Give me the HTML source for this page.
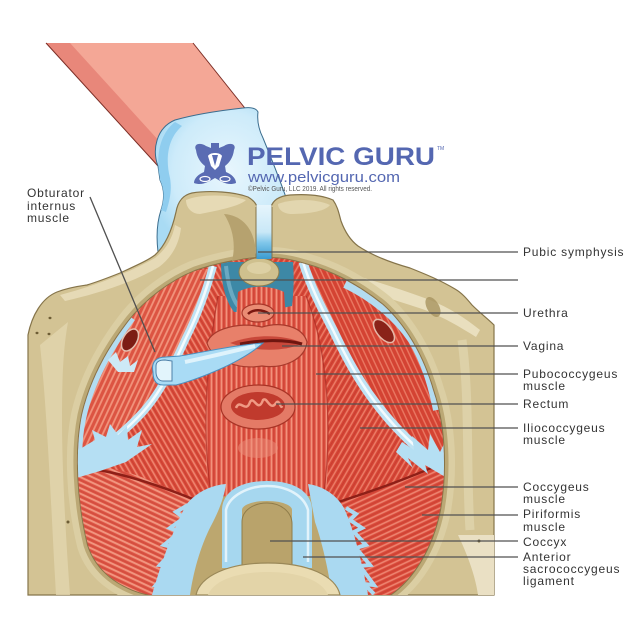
<!DOCTYPE html>
<html><head><meta charset="utf-8">
<style>
html,body{margin:0;padding:0;background:#fff;width:640px;height:640px;overflow:hidden;}
svg{display:block;}
text{font-family:"Liberation Sans",sans-serif;}
</style></head><body>
<svg width="640" height="640" viewBox="0 0 640 640" xmlns="http://www.w3.org/2000/svg">
<defs>
  <pattern id="fV" width="5" height="20" patternUnits="userSpaceOnUse">
    <rect width="5" height="20" fill="#da4c3c"/><rect x="0.6" width="1.8" height="20" fill="#f2927c"/><rect x="3.6" width="0.5" height="20" fill="#ad2e25" opacity=".5"/>
  </pattern>
  <pattern id="fLL" width="5" height="20" patternUnits="userSpaceOnUse" patternTransform="rotate(-30)">
    <rect width="5" height="20" fill="#d84838"/><rect x="0.6" width="1.6" height="20" fill="#ef8670"/><rect x="3.6" width="0.5" height="20" fill="#a82a22" opacity=".5"/>
  </pattern>
  <pattern id="fRR" width="5" height="20" patternUnits="userSpaceOnUse" patternTransform="rotate(30)">
    <rect width="5" height="20" fill="#d64535"/><rect x="0.6" width="1.5" height="20" fill="#ec7c66"/><rect x="3.6" width="0.5" height="20" fill="#a82a22" opacity=".5"/>
  </pattern>
  <pattern id="fOL" width="5" height="20" patternUnits="userSpaceOnUse" patternTransform="rotate(25)">
    <rect width="5" height="20" fill="#dc5442"/><rect x="0.6" width="1.8" height="20" fill="#f2947c"/>
  </pattern>
  <pattern id="fOR" width="5" height="20" patternUnits="userSpaceOnUse" patternTransform="rotate(-25)">
    <rect width="5" height="20" fill="#d44333"/><rect x="0.6" width="1.4" height="20" fill="#ea7862"/>
  </pattern>
  <pattern id="fBL" width="5" height="20" patternUnits="userSpaceOnUse" patternTransform="rotate(-65)">
    <rect width="5" height="20" fill="#dc5444"/><rect x="0.6" width="1.9" height="20" fill="#f29680"/><rect x="3.7" width="0.5" height="20" fill="#a82a22" opacity=".4"/>
  </pattern>
  <pattern id="fBR" width="5" height="20" patternUnits="userSpaceOnUse" patternTransform="rotate(65)">
    <rect width="5" height="20" fill="#d84838"/><rect x="0.6" width="1.6" height="20" fill="#ee8470"/><rect x="3.7" width="0.5" height="20" fill="#a82a22" opacity=".4"/>
  </pattern>
  <linearGradient id="sym" x1="0" y1="0" x2="0" y2="1">
    <stop offset="0" stop-color="#e6f5fc"/><stop offset="0.5" stop-color="#c9e8f7"/><stop offset="0.7" stop-color="#7fc6ea"/><stop offset="1" stop-color="#3a9ad0"/>
  </linearGradient>
  <radialGradient id="capg" cx="0.55" cy="0.45" r="0.6">
    <stop offset="0" stop-color="#e8f6fd"/><stop offset="0.7" stop-color="#cdebfa"/><stop offset="1" stop-color="#a9dbf4"/>
  </radialGradient>
  <clipPath id="op"><path d="M256,258 C240,259 215,264 195,271 C170,281 145,300 128,322 C108,348 90,380 82,415 C75,450 77,500 88,545 C96,570 118,588 150,595 L390,595 C412,580 432,550 440,510 C447,470 445,425 433,390 C423,355 405,325 383,305 C362,288 335,272 305,264 C292,260 282,258 270,258 Z"/></clipPath>
  <clipPath id="pan"><path d="M28,335 C32,315 42,298 57,292 C70,287 80,286 87,285 C100,281 110,277 120,273 C135,266 147,261 155,255 C166,245 172,230 176,212 C178,201 183,195 192,193 C210,190 235,192 248,197 C253,200 256,203 257,207 L271,207 C273,200 280,196 290,195 C305,194 322,195 333,200 C338,207 339,214 341,221 C345,232 350,240 358,246 C370,254 385,261 410,268 C425,274 440,280 455,289 C462,293 467,299 472,305 C480,313 488,319 494,325 L494,595 L28,595 Z"/></clipPath>
</defs>

<rect width="640" height="640" fill="#fff"/>

<!-- thigh -->
<polygon points="46,43 193,43 248,112 158,166" fill="#f4a796"/>
<polygon points="46,43 70,43 170,153 158,166" fill="#e8877a"/>
<path d="M46,43 L158,166 M193,43 L248,112" stroke="#7c2e26" stroke-width="1" fill="none"/>

<!-- blue cap -->
<path d="M158,166 C152,150 156,128 175,120 C200,113 225,110 243,108 C250,107 256,108 258,112 C257,120 258,128 263,138 C270,155 278,175 287,200 L285,252 L158,252 C156,235 157,222 161,210 C165,198 164,188 160,180 Z" fill="url(#capg)" stroke="#3b6d8e" stroke-width="1"/>
<path d="M160,178 C156,160 158,135 175,122 L182,126 C168,138 165,158 170,178 C172,190 170,200 166,212 L161,210 C165,198 164,188 160,180Z" fill="#8fcdef"/>

<!-- bone panel -->
<path d="M28,335 C32,315 42,298 57,292 C70,287 80,286 87,285 C100,281 110,277 120,273 C135,266 147,261 155,255 C166,245 172,230 176,212 C178,201 183,195 192,193 C210,190 235,192 248,197 C253,200 256,203 257,207 L271,207 C273,200 280,196 290,195 C305,194 322,195 333,200 C338,207 339,214 341,221 C345,232 350,240 358,246 C370,254 385,261 410,268 C425,274 440,280 455,289 C462,293 467,299 472,305 C480,313 488,319 494,325 L494,595 L28,595 Z" fill="#d3c394" stroke="#85744a" stroke-width="1.2"/>

<g clip-path="url(#pan)">
  <path d="M40,345 C46,400 50,480 54,560 L56,595 L70,595 C66,540 62,470 62,420 C62,380 63,350 68,322 Z" fill="#e2d6ae" opacity=".8"/>
  <path d="M60,295 C90,287 125,275 155,258 C165,250 172,240 175,225 L181,228 C179,245 171,258 159,267 C130,284 95,294 65,301 Z" fill="#e6dab6"/>
  <path d="M300,262 C340,270 390,285 430,300 C450,308 465,318 480,330 L476,337 C460,327 445,318 425,310 C390,298 340,284 300,270 Z" fill="#e9dfbe"/>
  <ellipse cx="433" cy="307" rx="6" ry="11" transform="rotate(-30 433 307)" fill="#a8945f" opacity=".8"/>
  <path d="M462,340 C470,400 466,470 470,530" stroke="#ddd1a8" stroke-width="9" fill="none"/>
  <path d="M458,535 C470,560 476,580 478,595 L494,595 L494,535 Z" fill="#eae0c4"/>
  <ellipse cx="50" cy="318" rx="1.5" ry="1.2" fill="#6d5d35"/>
  <ellipse cx="37" cy="333" rx="1.5" ry="1.2" fill="#6d5d35"/>
  <ellipse cx="49" cy="334" rx="1.5" ry="1.2" fill="#6d5d35"/>
  <ellipse cx="68" cy="522" rx="1.5" ry="1.5" fill="#6d5d35"/>
  <ellipse cx="479" cy="541" rx="1.5" ry="1.5" fill="#6d5d35"/>
  <path d="M256,258 C240,259 215,264 195,271 C170,281 145,300 128,322 C108,348 90,380 82,415 C75,450 77,500 88,545 C96,570 118,588 150,595 L390,595 C412,580 432,550 440,510 C447,470 445,425 433,390 C423,355 405,325 383,305 C362,288 335,272 305,264 C292,260 282,258 270,258 Z" fill="none" stroke="#dbcea3" stroke-width="22"/>
  <path d="M256,258 C240,259 215,264 195,271 C170,281 145,300 128,322 C108,348 90,380 82,415 C75,450 77,500 88,545 C96,570 118,588 150,595 L390,595 C412,580 432,550 440,510 C447,470 445,425 433,390 C423,355 405,325 383,305 C362,288 335,272 305,264 C292,260 282,258 270,258 Z" fill="none" stroke="#bba875" stroke-width="9"/>
  <path d="M256,258 C240,259 215,264 195,271 C170,281 145,300 128,322 C108,348 90,380 82,415 C75,450 77,500 88,545 C96,570 118,588 150,595 L390,595 C412,580 432,550 440,510 C447,470 445,425 433,390 C423,355 405,325 383,305 C362,288 335,272 305,264 C292,260 282,258 270,258 Z" fill="none" stroke="#877548" stroke-width="2"/>
</g>

<!-- opening content -->
<g clip-path="url(#op)">
  <rect x="60" y="250" width="207" height="345" fill="url(#fLL)"/>
  <rect x="267" y="250" width="200" height="345" fill="url(#fRR)"/>
  <path d="M195,271 C170,281 145,300 128,322 C108,348 90,380 82,415 C77,440 77,455 78,468 L95,458 C120,440 140,420 155,398 C170,375 185,340 195,312 C200,295 207,280 212,268 Z" fill="url(#fOL)"/>
  <path d="M305,264 C335,272 362,288 383,305 C405,325 423,355 433,390 C440,415 444,440 444,468 L430,460 C410,445 392,425 375,402 C358,380 345,355 333,330 C322,308 312,285 303,262 Z" fill="url(#fOR)"/>
  <path d="M78,468 C110,462 150,478 205,505 C215,515 225,540 230,595 L70,595 Z" fill="url(#fBL)"/>
  <path d="M446,464 C410,478 370,492 322,507 C312,520 305,545 300,595 L450,595 Z" fill="url(#fBR)"/>
  <path d="M218,296 C208,350 200,430 210,500 L325,500 C333,430 328,350 306,296 Z" fill="url(#fV)"/>
  <path d="M80,468 C115,470 160,485 210,506" stroke="#8e1f17" stroke-width="2.4" fill="none"/>
  <path d="M445,462 C410,478 370,492 320,508" stroke="#8e1f17" stroke-width="2.4" fill="none"/>
  <path d="M218,296 C208,350 200,430 212,500" stroke="#a8281f" stroke-width="1.2" fill="none" opacity=".7"/>
  <path d="M306,296 C328,350 333,430 323,500" stroke="#a8281f" stroke-width="1.2" fill="none" opacity=".7"/>
  <path d="M132,318 C112,345 95,375 86,405 C80,425 78,445 79,465" stroke="#b3dcf1" stroke-width="7" fill="none"/>
  <path d="M345,284 C370,296 395,315 412,340 C425,362 432,385 437,410" stroke="#b3dcf1" stroke-width="8" fill="none"/>
  <path d="M213,266 C206,292 196,318 186,338 C175,362 164,386 148,406 C132,426 108,444 80,466" stroke="#bfe3f4" stroke-width="8" fill="none"/>
  <path d="M213,266 C206,292 196,318 186,338 C175,362 164,386 148,406 C132,426 108,444 80,466" stroke="#f4fbfe" stroke-width="2.5" fill="none"/>
  <path d="M75,452 L95,440 L92,430 L106,437 L110,424 L118,435 L127,426 L128,440 L142,430 L137,447 L152,444 L126,462 L100,471 L76,478 Z" fill="#b5dff3"/>
  <path d="M108,360 L116,352 L120,362 L128,356 L130,366 L138,360 L134,372 L118,372 Z" fill="#cde9f6"/>
  <path d="M303,262 C310,285 320,305 333,330 C345,355 358,380 375,402 C392,425 415,448 442,468" stroke="#bfe3f4" stroke-width="9" fill="none"/>
  <path d="M303,262 C310,285 320,305 333,330 C345,355 358,380 375,402 C392,425 415,448 442,468" stroke="#f4fbfe" stroke-width="2.5" fill="none"/>
  <path d="M447,478 L425,465 L428,474 L408,458 L413,468 L396,452 L402,442 L414,450 L412,436 L428,450 L430,434 L440,452 L446,440 Z" fill="#b5dff3"/>
  <ellipse cx="130" cy="340" rx="7" ry="12" transform="rotate(30 130 340)" fill="#7c1d14" stroke="#e5c0b0" stroke-width="1.5"/>
  <ellipse cx="384" cy="331" rx="7" ry="14" transform="rotate(-40 384 331)" fill="#8a2218" stroke="#e5b8a8" stroke-width="1.5"/>
  <path d="M221,262 C221,282 225,300 234,312 L248,312 L248,290 L278,290 L282,308 L292,306 C294,290 294,275 293,262 Z" fill="#3d88a6"/>
  <path d="M226,266 C228,285 232,298 238,306" stroke="#6aa9c2" stroke-width="4" fill="none"/>
  <ellipse cx="259" cy="272" rx="20" ry="14" fill="#cfc08e" stroke="#8e7c4b" stroke-width="1"/>
  <ellipse cx="259" cy="268" rx="12" ry="6" fill="#ddd0a4"/>
  <path d="M238,292 C250,285 270,285 284,292 L286,320 L236,320 Z" fill="url(#fV)"/>
  <ellipse cx="258" cy="313" rx="16" ry="9" fill="#ea8c74" stroke="#a8372a" stroke-width="1.2"/>
  <path d="M248,314 C253,309 262,309 270,314" stroke="#7a1810" stroke-width="2.5" fill="none"/>
  <path d="M207,343 C212,328 240,322 262,327 C282,321 303,327 307,342 C305,360 283,369 262,366 C238,370 212,360 207,343 Z" fill="#e8806a" stroke="#a83a2c" stroke-width="1.2"/>
  <path d="M230,343 C250,335 280,333 303,343 C285,352 255,352 230,343 Z" fill="#c8483a"/>
  <path d="M240,344 C260,340 285,339 302,344" stroke="#6e150f" stroke-width="3" fill="none"/>
  <ellipse cx="258" cy="407" rx="37" ry="22" fill="#e47a66" stroke="#a83426" stroke-width="1.2"/>
  <ellipse cx="258" cy="406" rx="27" ry="14" fill="#c03a2d"/>
  <path d="M236,408 C240,398 246,414 250,402 C254,395 258,414 263,400 C267,396 270,412 276,403 C279,398 281,410 282,406" stroke="#f09a84" stroke-width="2.5" fill="none"/>
  <ellipse cx="258" cy="448" rx="20" ry="10" fill="#ec907c" opacity=".5"/>
  <path d="M198,525 C203,508 213,498 226,496 L310,496 C323,498 333,508 338,525 L350,595 L186,595 Z" fill="#bca76f"/>
  <path d="M226,484 C212,485 196,492 186,505 C174,528 162,560 152,595 L190,595 C194,568 202,542 213,522 C219,510 224,498 226,484 Z" fill="#aad9f1"/>
  <path d="M188,505 L176,512 L184,518 L170,528 L180,532 L164,545 L176,548 L160,565 L172,566 L156,585 L168,584 L160,594" stroke="#aad9f1" stroke-width="4" fill="none"/>
  <path d="M308,484 C322,486 336,494 344,508 C354,530 362,562 368,595 L332,595 C328,568 322,542 315,522 Z" fill="#aad9f1"/>
  <path d="M346,508 L356,514 L350,520 L362,528 L354,532 L366,545 L356,548 L370,565 L360,566 L374,585 L364,584 L374,594" stroke="#aad9f1" stroke-width="4" fill="none"/>
  <path d="M232,568 L232,510 C232,497 248,491 267,491 C286,491 302,497 302,510 L302,568" stroke="#a6d7ef" stroke-width="20" fill="none"/>
  <path d="M226,562 L226,510 C229,496 248,486 267,486 C288,486 304,496 308,510 L308,562" stroke="#e2f3fb" stroke-width="2.5" fill="none"/>
  <path d="M242,566 L242,522 C242,510 254,503 267,503 C281,503 292,512 292,524 L292,566 Z" fill="#b9a36b" stroke="#8f7c4a" stroke-width="1"/>
  <path d="M196,595 C200,576 228,563 268,563 C308,563 336,576 340,595 Z" fill="#eadcb2" stroke="#9a8858" stroke-width="1.2"/>
  <path d="M208,595 C214,580 238,572 268,572 C298,572 322,580 328,595 Z" fill="#e3d4a8"/>
</g>

<!-- pubic body details -->
<path d="M186,200 C200,194 228,194 246,200 C240,206 220,210 200,214 C192,214 186,208 186,200 Z" fill="#e6dab5"/>
<path d="M224,214 C240,215 252,226 255,245 L255,256 L232,261 C236,245 233,228 224,214 Z" fill="#b6a26f"/>
<path d="M278,204 C290,199 315,198 330,205 C325,212 305,214 290,214 C282,213 278,209 278,204 Z" fill="#e2d6af"/>
<path d="M256,207 L256,258" stroke="#85744a" stroke-width="1"/>
<path d="M272,207 L272,258" stroke="#85744a" stroke-width="1"/>
<rect x="256.5" y="205" width="15" height="54" fill="url(#sym)"/>

<!-- blue thumb -->
<path d="M153,372 C151,362 156,357 166,357 L180,356 C200,353 228,346 263,343 C252,353 236,362 218,370 C202,377 188,382 176,385 L163,385 C156,385 153,380 153,372 Z" fill="#a9dbf5" stroke="#4a8fbf" stroke-width="1"/>
<path d="M185,362 C205,358 230,352 255,346" stroke="#dff3fc" stroke-width="4" fill="none"/>
<path d="M156,366 C156,361 160,360 165,360 L172,361 L172,381 L163,381 C158,381 156,376 156,372 Z" fill="#e2f4fc" stroke="#4d7fa8" stroke-width="1"/>

<!-- logo -->
<path d="M196,150 C193,144 200,142 206,146 L211,148 L211,143 L219,143 L219,148 L224,146 C230,142 237,144 234,150 C233,158 229,163 225,166 L226,172 C231,174 236,178 236,183 C228,186 222,182 215,178 C208,182 202,186 194,183 C194,178 199,174 204,172 L205,166 C201,163 197,158 196,150 Z" fill="#5a6cb3"/>
<path d="M208,156 C210,152 220,152 222,156 L219,166 L215,170 L211,166 Z" fill="#fff"/>
<path d="M212,155 L218,155 L215,166 Z" fill="#5a6cb3"/>
<ellipse cx="205" cy="179" rx="5" ry="2.5" fill="none" stroke="#fff" stroke-width="1.2"/>
<ellipse cx="225" cy="179" rx="5" ry="2.5" fill="none" stroke="#fff" stroke-width="1.2"/>
<text x="247" y="165" font-size="25" font-weight="bold" fill="#5467b1" textLength="188" lengthAdjust="spacingAndGlyphs">PELVIC GURU</text>
<text x="437" y="150" font-size="5" fill="#5467b1">TM</text>
<text x="248" y="182" font-size="15" fill="#5467b1" textLength="152" lengthAdjust="spacingAndGlyphs">www.pelvicguru.com</text>
<text x="248" y="191" font-size="7" fill="#555" textLength="124" lengthAdjust="spacingAndGlyphs">©Pelvic Guru, LLC 2019. All rights reserved.</text>

<!-- leader lines -->
<g stroke="#505050" stroke-width="1.3">
  <line x1="258" y1="252" x2="518" y2="252"/>
  <line x1="200" y1="280" x2="518" y2="280"/>
  <line x1="258" y1="313" x2="518" y2="313"/>
  <line x1="282" y1="346" x2="518" y2="346"/>
  <line x1="316" y1="374" x2="518" y2="374"/>
  <line x1="276" y1="404" x2="518" y2="404"/>
  <line x1="360" y1="428" x2="518" y2="428"/>
  <line x1="405" y1="487" x2="518" y2="487"/>
  <line x1="422" y1="515" x2="518" y2="515"/>
  <line x1="270" y1="541" x2="518" y2="541"/>
  <line x1="303" y1="557" x2="518" y2="557"/>
  <line x1="90" y1="197" x2="155" y2="352"/>
</g>

<!-- labels -->
<g font-size="12" fill="#333" letter-spacing="0.8">
  <text x="27" y="197">Obturator</text>
  <text x="27" y="210">internus</text>
  <text x="27" y="222">muscle</text>
  <text x="523" y="256">Pubic symphysis</text>
  <text x="523" y="317">Urethra</text>
  <text x="523" y="350">Vagina</text>
  <text x="523" y="378">Pubococcygeus</text>
  <text x="523" y="390">muscle</text>
  <text x="523" y="408">Rectum</text>
  <text x="523" y="432">Iliococcygeus</text>
  <text x="523" y="444">muscle</text>
  <text x="523" y="491">Coccygeus</text>
  <text x="523" y="503">muscle</text>
  <text x="523" y="518">Piriformis</text>
  <text x="523" y="531">muscle</text>
  <text x="523" y="546">Coccyx</text>
  <text x="523" y="561">Anterior</text>
  <text x="523" y="573">sacrococcygeus</text>
  <text x="523" y="585">ligament</text>
</g>
</svg>
</body></html>
